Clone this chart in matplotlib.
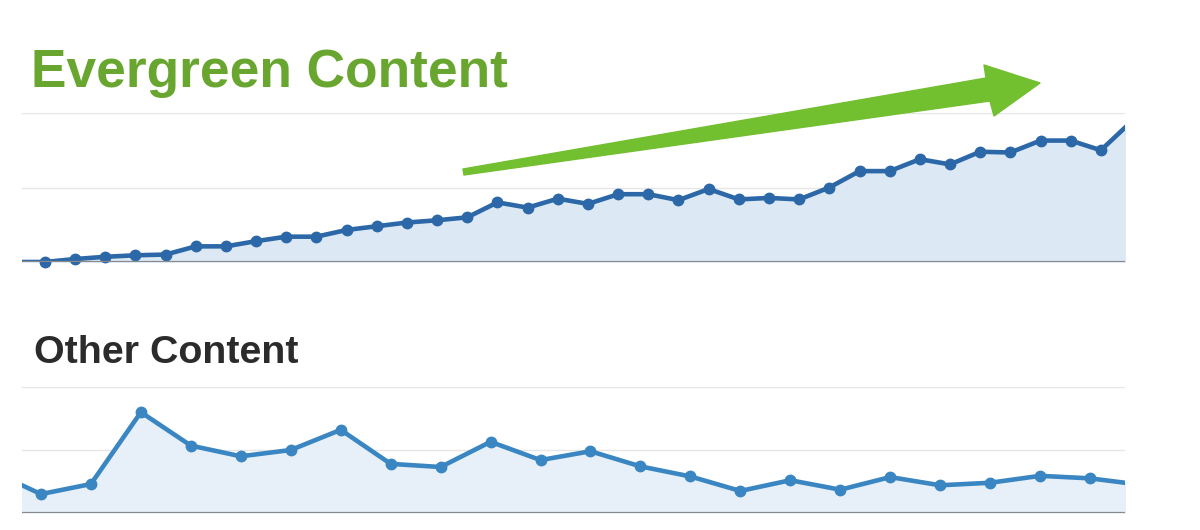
import matplotlib
matplotlib.use("Agg")
import matplotlib.pyplot as plt
from matplotlib.patches import Polygon
import numpy as np

# Evergreen content: one value per marker (gridline units), plus a clipped point at each end
evergreen = [0.00, 0.00, 0.04, 0.07, 0.09, 0.10, 0.21, 0.21, 0.28, 0.34, 0.34,
             0.43, 0.48, 0.53, 0.56, 0.60, 0.80, 0.73, 0.85, 0.78, 0.91,
             0.91, 0.83, 0.98, 0.84, 0.86, 0.84, 1.00, 1.22, 1.22, 1.38,
             1.31, 1.48, 1.47, 1.63, 1.63, 1.50, 1.88]
# Other content
other = [0.67, 0.30, 0.46, 1.60, 1.07, 0.90, 1.00, 1.32, 0.78, 0.73, 1.13,
         0.84, 0.98, 0.74, 0.58, 0.35, 0.52, 0.37, 0.57, 0.44, 0.48,
         0.59, 0.55, 0.45]

W, H = 1200, 530
fig = plt.figure(figsize=(W / 100, H / 100), dpi=100)
fig.patch.set_facecolor("white")


def px_axes(left, right, top, bottom):
    return fig.add_axes([left / W, (H - bottom) / H, (right - left) / W, (bottom - top) / H])


def draw_panel(ax, values, line_color, fill_color, xlim):
    x = np.arange(len(values)) - 1
    ax.fill_between(x, 0, values, color=fill_color, zorder=1)
    ax.plot(x, values, color=line_color, lw=3.3, zorder=3, solid_joinstyle="round")
    inside = (x >= xlim[0]) & (x <= xlim[1])
    ax.plot(x[inside], np.array(values)[inside], "o", color=line_color, ms=7.5,
            zorder=4, clip_on=False)
    ax.set_xlim(*xlim)
    ax.set_ylim(0, 2)
    for g in (1, 2):
        ax.axhline(g, color="#e6e6e6", lw=1.0, zorder=0)
    ax.axhline(0, color="#8a8a8a", lw=1.6, zorder=5)
    for s in ax.spines.values():
        s.set_visible(False)
    ax.set_xticks([])
    ax.set_yticks([])
    ax.patch.set_alpha(0)


ax_top = px_axes(22, 1125, 113, 262)
draw_panel(ax_top, evergreen, "#2c68a8", "#dce9f5", (-0.76, 35.8))

ax_bot = px_axes(22, 1125, 387, 513)
draw_panel(ax_bot, other, "#3a86c2", "#e7f0f8", (-0.38, 21.7))

fig.text(31 / W, 1 - 87 / H, "Evergreen Content", color="#68a630",
         fontsize=38.3, fontweight="bold", family="Liberation Sans", va="baseline")
fig.text(34 / W, 1 - 363 / H, "Other Content", color="#2b2b2b",
         fontsize=28.4, fontweight="bold", family="Liberation Sans", va="baseline")

# tapered green arrow (figure pixels, y measured from the top)
arrow_px = [(463, 169), (986, 78), (984, 65), (1040, 83), (994, 116),
            (990, 101), (464, 175)]
arrow = Polygon([(ax_ / W, 1 - ay / H) for ax_, ay in arrow_px], closed=True,
                transform=fig.transFigure, facecolor="#72bf2f", edgecolor="#72bf2f",
                lw=1.0, joinstyle="round", zorder=10)
fig.patches.append(arrow)

fig.savefig("out.png", dpi=100, facecolor="white")
